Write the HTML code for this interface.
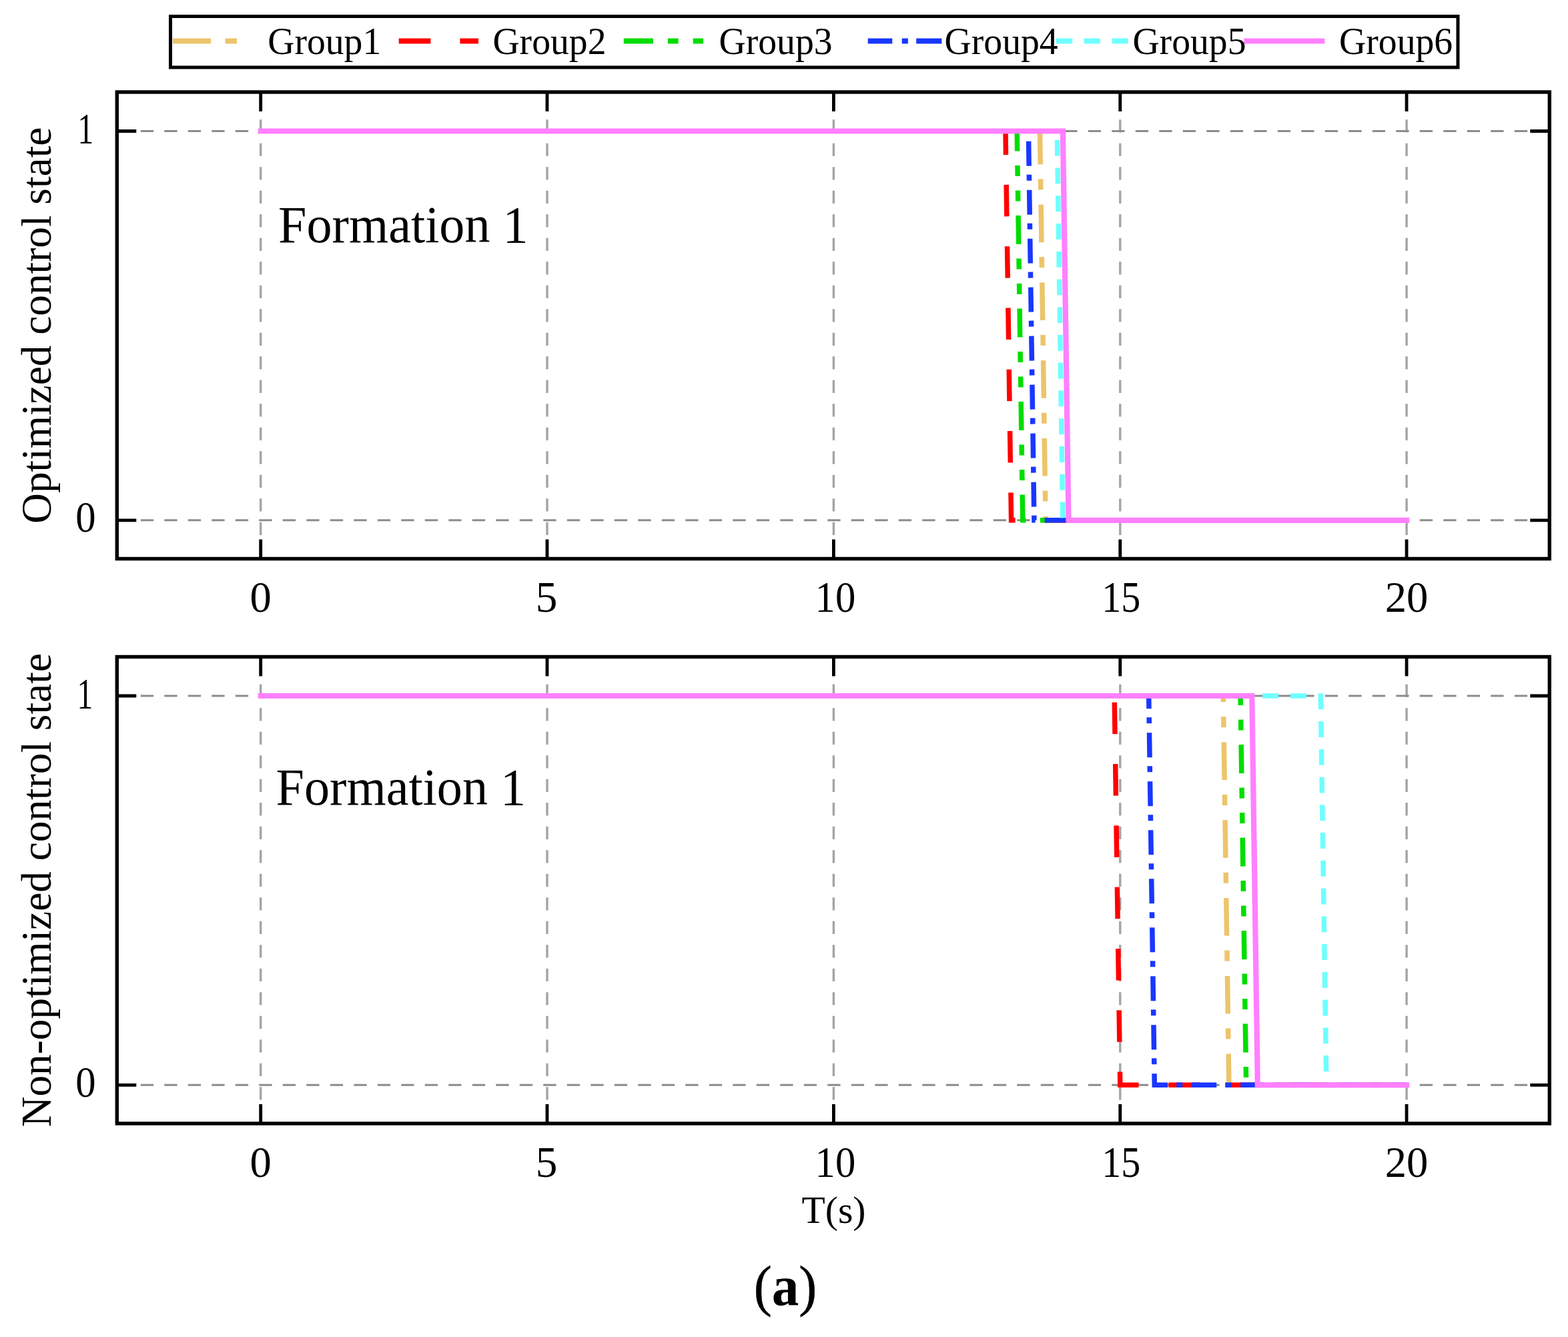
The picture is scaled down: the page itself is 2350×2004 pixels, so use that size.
<!DOCTYPE html>
<html><head><meta charset="utf-8"><title>Figure</title>
<style>html,body{margin:0;padding:0;background:#fff;}svg{display:block;}svg text{font-family:"Liberation Serif","Times New Roman",serif;fill:#000;}</style>
</head><body>
<svg width="2350" height="2004" viewBox="0 0 2350 2004">
<rect width="2350" height="2004" fill="#fff"/>
<rect x="255.5" y="24.5" width="1929.5" height="76.5" fill="#fff" stroke="#000" stroke-width="5"/>
<path d="M259 61.5H316 M337.5 61.5H355" stroke="#ECC46A" stroke-width="8" fill="none"/>
<path d="M597.7 61.5H645.4 M689.4 61.5H717" stroke="#FF0000" stroke-width="8" fill="none"/>
<path d="M934.8 61.5H978.9 M1000.9 61.5H1016.7 M1038.7 61.5H1054" stroke="#00DD00" stroke-width="8" fill="none"/>
<path d="M1300.7 61.5H1337.3 M1351.7 61.5H1360.9 M1373.2 61.5H1411.4" stroke="#1937FF" stroke-width="8" fill="none"/>
<path d="M1582.8 61.5H1607.2 M1624.5 61.5H1648.9 M1666.8 61.5H1690.6" stroke="#6EFFFF" stroke-width="8" fill="none"/>
<path d="M1864.3 61.5H1985.4" stroke="#FF80FF" stroke-width="8" fill="none"/>
<text transform="translate(401.2 80.8) scale(0.965 1)" font-size="57.7">Group1</text>
<text transform="translate(738.4 80.8) scale(0.965 1)" font-size="57.7">Group2</text>
<text transform="translate(1077.5 80.8) scale(0.965 1)" font-size="57.7">Group3</text>
<text transform="translate(1415.6 80.8) scale(0.965 1)" font-size="57.7">Group4</text>
<text transform="translate(1697.4 80.8) scale(0.965 1)" font-size="57.7">Group5</text>
<text transform="translate(2007.1 80.8) scale(0.965 1)" font-size="57.7">Group6</text>
<path d="M390.7 837.5V138.0" stroke="#a4a4a4" stroke-width="3.4" stroke-dasharray="19.3 16.2" fill="none"/>
<path d="M820.0 837.5V138.0" stroke="#a4a4a4" stroke-width="3.4" stroke-dasharray="19.3 16.2" fill="none"/>
<path d="M1249.4 837.5V138.0" stroke="#a4a4a4" stroke-width="3.4" stroke-dasharray="19.3 16.2" fill="none"/>
<path d="M1678.8 837.5V138.0" stroke="#a4a4a4" stroke-width="3.4" stroke-dasharray="19.3 16.2" fill="none"/>
<path d="M2108.1 837.5V138.0" stroke="#a4a4a4" stroke-width="3.4" stroke-dasharray="19.3 16.2" fill="none"/>
<path d="M175.3 196.5H2322.3" stroke="#8c8c8c" stroke-width="3" stroke-dasharray="19.3 16.2" fill="none"/>
<path d="M175.3 779.8H2322.3" stroke="#8c8c8c" stroke-width="3" stroke-dasharray="19.3 16.2" fill="none"/>
<path d="M1558.5 196.5L1567.1 779.8H2108.1" stroke="#ECC46A" stroke-width="7.5" stroke-dasharray="56.5 22 16 22.3" stroke-dashoffset="6.6" fill="none"/>
<path d="M1507.0 196.5L1515.6 779.8H2108.1" stroke="#FF0000" stroke-width="7.5" stroke-dasharray="47.5 44.8" stroke-dashoffset="11.9" fill="none"/>
<path d="M1524.2 196.5L1532.8 779.8H2108.1" stroke="#00DD00" stroke-width="7.5" stroke-dasharray="43 21.5 16 21.5 16 21.5" stroke-dashoffset="13.0" fill="none"/>
<path d="M1541.4 196.5L1549.9 779.8H2108.1" stroke="#1937FF" stroke-width="7.5" stroke-dasharray="37 13 9 14" stroke-dashoffset="57.8" fill="none"/>
<path d="M1584.3 196.5L1592.9 779.8H2108.1" stroke="#6EFFFF" stroke-width="7.5" stroke-dasharray="23.8 17.95" stroke-dashoffset="28.4" fill="none"/>
<path d="M390.7 196.5H1592.9L1601.5 779.8H2108.1" stroke="#FF80FF" stroke-width="8.2" stroke-linecap="square" stroke-linejoin="miter" fill="none"/>
<rect x="175.3" y="138.0" width="2147.0" height="699.5" fill="none" stroke="#000" stroke-width="5.4"/>
<path d="M390.7 138.0v29M390.7 837.5v-29M820.0 138.0v29M820.0 837.5v-29M1249.4 138.0v29M1249.4 837.5v-29M1678.8 138.0v29M1678.8 837.5v-29M2108.1 138.0v29M2108.1 837.5v-29M175.3 196.5h29M2322.3 196.5h-29M175.3 779.8h29M2322.3 779.8h-29" stroke="#000" stroke-width="4.8" fill="none"/>
<text transform="translate(390.7 917.3) scale(0.98 1)" font-size="66" text-anchor="middle">0</text>
<text transform="translate(819.0 917.3) scale(0.99 1)" font-size="66" text-anchor="middle">5</text>
<text transform="translate(1251.9 917.3) scale(0.92 1)" font-size="66" text-anchor="middle">10</text>
<text transform="translate(1680.3 917.3) scale(0.88 1)" font-size="66" text-anchor="middle">15</text>
<text transform="translate(2108.1 917.3) scale(0.98 1)" font-size="66" text-anchor="middle">20</text>
<text transform="translate(128.3 215.0) scale(0.72 1)" font-size="66" text-anchor="middle">1</text>
<text transform="translate(128.5 797.0999999999999) scale(0.92 1)" font-size="66" text-anchor="middle">0</text>
<text transform="translate(417.1 363.0) scale(0.977 1)" font-size="78">Formation 1</text>
<text transform="translate(75.7 487.75) rotate(-90)" font-size="63.3" text-anchor="middle">Optimized control state</text>
<path d="M390.7 1684.0V984.5" stroke="#a4a4a4" stroke-width="3.4" stroke-dasharray="19.3 16.2" fill="none"/>
<path d="M820.0 1684.0V984.5" stroke="#a4a4a4" stroke-width="3.4" stroke-dasharray="19.3 16.2" fill="none"/>
<path d="M1249.4 1684.0V984.5" stroke="#a4a4a4" stroke-width="3.4" stroke-dasharray="19.3 16.2" fill="none"/>
<path d="M1678.8 1684.0V984.5" stroke="#a4a4a4" stroke-width="3.4" stroke-dasharray="19.3 16.2" fill="none"/>
<path d="M2108.1 1684.0V984.5" stroke="#a4a4a4" stroke-width="3.4" stroke-dasharray="19.3 16.2" fill="none"/>
<path d="M175.3 1043.0H2322.3" stroke="#8c8c8c" stroke-width="3" stroke-dasharray="19.3 16.2" fill="none"/>
<path d="M175.3 1626.3H2322.3" stroke="#8c8c8c" stroke-width="3" stroke-dasharray="19.3 16.2" fill="none"/>
<path d="M1833.3 1043.0L1841.9 1626.3H2108.1" stroke="#ECC46A" stroke-width="7.5" stroke-dasharray="56.5 22 16 22.3" stroke-dashoffset="47.3" fill="none"/>
<path d="M1670.2 1043.0L1678.8 1626.3H2108.1" stroke="#FF0000" stroke-width="7.5" stroke-dasharray="47.5 44.8" stroke-dashoffset="82.5" fill="none"/>
<path d="M1859.1 1043.0L1867.7 1626.3H2108.1" stroke="#00DD00" stroke-width="7.5" stroke-dasharray="43 21.5 16 21.5 16 21.5" stroke-dashoffset="66.4" fill="none"/>
<path d="M1721.7 1043.0L1730.3 1626.3H2108.1" stroke="#1937FF" stroke-width="7.5" stroke-dasharray="37 13 9 14" stroke-dashoffset="17.7" fill="none"/>
<path d="M1876.3 1043.0H1979.3L1987.9 1626.3H2108.1" stroke="#6EFFFF" stroke-width="7.5" stroke-dasharray="23.8 17.95" stroke-dashoffset="25.8" fill="none"/>
<path d="M390.7 1043.0H1876.3L1884.8 1626.3H2108.1" stroke="#FF80FF" stroke-width="8.2" stroke-linecap="square" stroke-linejoin="miter" fill="none"/>
<rect x="175.3" y="984.5" width="2147.0" height="699.5" fill="none" stroke="#000" stroke-width="5.4"/>
<path d="M390.7 984.5v29M390.7 1684.0v-29M820.0 984.5v29M820.0 1684.0v-29M1249.4 984.5v29M1249.4 1684.0v-29M1678.8 984.5v29M1678.8 1684.0v-29M2108.1 984.5v29M2108.1 1684.0v-29M175.3 1043.0h29M2322.3 1043.0h-29M175.3 1626.3h29M2322.3 1626.3h-29" stroke="#000" stroke-width="4.8" fill="none"/>
<text transform="translate(390.7 1763.8) scale(0.98 1)" font-size="66" text-anchor="middle">0</text>
<text transform="translate(819.0 1763.8) scale(0.99 1)" font-size="66" text-anchor="middle">5</text>
<text transform="translate(1251.9 1763.8) scale(0.92 1)" font-size="66" text-anchor="middle">10</text>
<text transform="translate(1680.3 1763.8) scale(0.88 1)" font-size="66" text-anchor="middle">15</text>
<text transform="translate(2108.1 1763.8) scale(0.98 1)" font-size="66" text-anchor="middle">20</text>
<text transform="translate(127.5 1061.5) scale(0.72 1)" font-size="66" text-anchor="middle">1</text>
<text transform="translate(128.5 1643.6) scale(0.92 1)" font-size="66" text-anchor="middle">0</text>
<text transform="translate(413.6 1206.0) scale(0.977 1)" font-size="78">Formation 1</text>
<text transform="translate(75.7 1334.25) rotate(-90)" font-size="63.3" text-anchor="middle">Non-optimized control state</text>
<text x="1249.5" y="1833.3" font-size="57.7" text-anchor="middle">T(s)</text>
<text transform="translate(1177 1956.3) scale(0.95 1)" font-size="85.5" text-anchor="middle"><tspan stroke="#000" stroke-width="0.5">(</tspan><tspan font-weight="bold">a</tspan><tspan stroke="#000" stroke-width="0.5">)</tspan></text>
</svg>
</body></html>
